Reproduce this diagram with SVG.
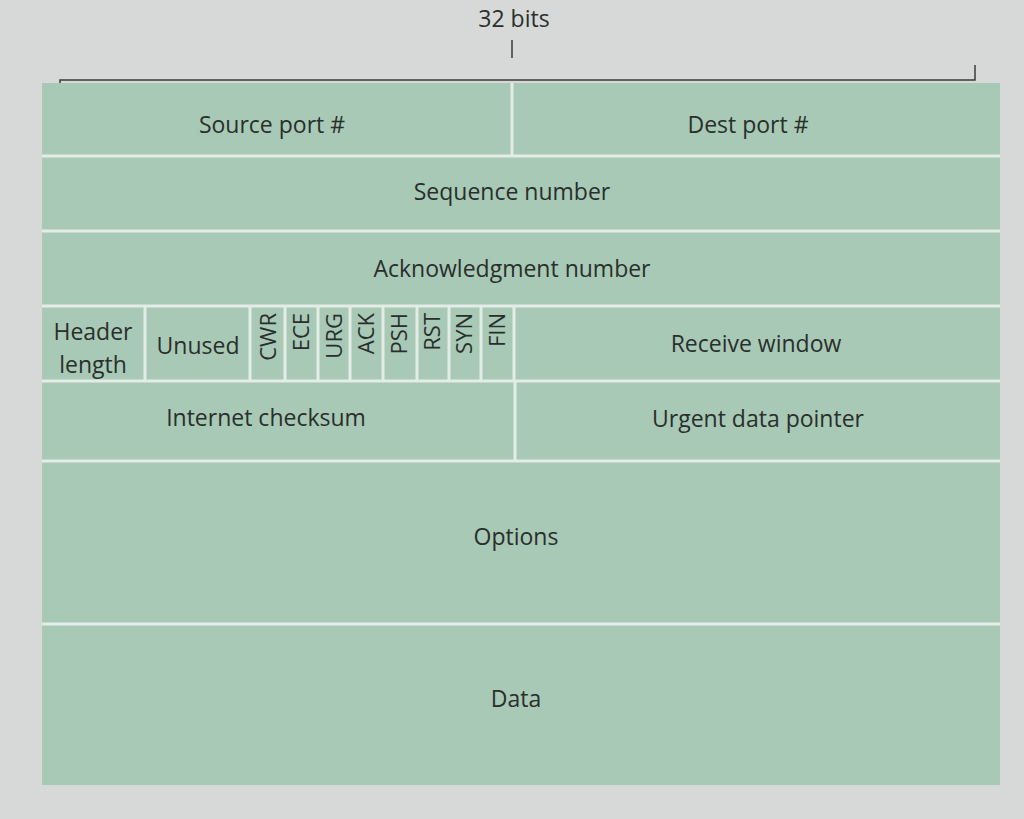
<svg xmlns="http://www.w3.org/2000/svg" width="1024" height="819" viewBox="0 0 1024 819">
<style>
.c{fill:#a8c9b6}
.t{font-family:"Open Sans","DejaVu Sans",sans-serif;font-size:23px;fill:#2a2f2c;text-anchor:middle}
.f{font-family:"Open Sans","DejaVu Sans",sans-serif;font-size:22px;fill:#2a2f2c;text-anchor:end}
.sep{stroke:#e4ece6;stroke-width:3}
</style>
<rect width="1024" height="819" fill="#d6d9d7"/>
<g id="bracket" fill="none" stroke="#3a3a3a" stroke-width="1.5">
<path d="M60 98 V80 H975 V65 M512 40 V58"/>
</g>
<text class="t" x="514" y="27">32 bits</text>
<g id="fields">
<rect class="c" x="42" y="83" width="958" height="702"/>
</g>
<g id="connectors" class="sep">
<line x1="42" y1="156" x2="1000" y2="156"/>
<line x1="42" y1="231" x2="1000" y2="231"/>
<line x1="42" y1="306" x2="1000" y2="306"/>
<line x1="42" y1="381" x2="1000" y2="381"/>
<line x1="42" y1="461" x2="1000" y2="461"/>
<line x1="42" y1="624" x2="1000" y2="624"/>
<line x1="512" y1="83" x2="512" y2="156"/>
<line x1="515" y1="381" x2="515" y2="461"/>
<line x1="145" y1="306" x2="145" y2="381"/>
<line x1="250" y1="306" x2="250" y2="381"/>
<line x1="285" y1="306" x2="285" y2="381"/>
<line x1="318" y1="306" x2="318" y2="381"/>
<line x1="350" y1="306" x2="350" y2="381"/>
<line x1="383" y1="306" x2="383" y2="381"/>
<line x1="417" y1="306" x2="417" y2="381"/>
<line x1="449" y1="306" x2="449" y2="381"/>
<line x1="481" y1="306" x2="481" y2="381"/>
<line x1="514" y1="306" x2="514" y2="381"/>
</g>
<g id="labels">
<text class="t" x="272" y="133">Source port #</text>
<text class="t" x="748" y="133">Dest port #</text>
<text class="t" x="512" y="200">Sequence number</text>
<text class="t" x="512" y="277">Acknowledgment number</text>
<text class="t" x="93" y="340">Header</text>
<text class="t" x="93" y="373">length</text>
<text class="t" x="198" y="354">Unused</text>
<text class="f" transform="translate(276,313) rotate(-90)">CWR</text>
<text class="f" transform="translate(309,313) rotate(-90)">ECE</text>
<text class="f" transform="translate(342,313) rotate(-90)">URG</text>
<text class="f" transform="translate(374,313) rotate(-90)">ACK</text>
<text class="f" transform="translate(407,313) rotate(-90)">PSH</text>
<text class="f" transform="translate(440,313) rotate(-90)">RST</text>
<text class="f" transform="translate(472,313) rotate(-90)">SYN</text>
<text class="f" transform="translate(505,313) rotate(-90)">FIN</text>
<text class="t" x="756" y="352">Receive window</text>
<text class="t" x="266" y="426">Internet checksum</text>
<text class="t" x="758" y="427">Urgent data pointer</text>
<text class="t" x="516" y="545">Options</text>
<text class="t" x="516" y="707">Data</text>
</g>
</svg>
